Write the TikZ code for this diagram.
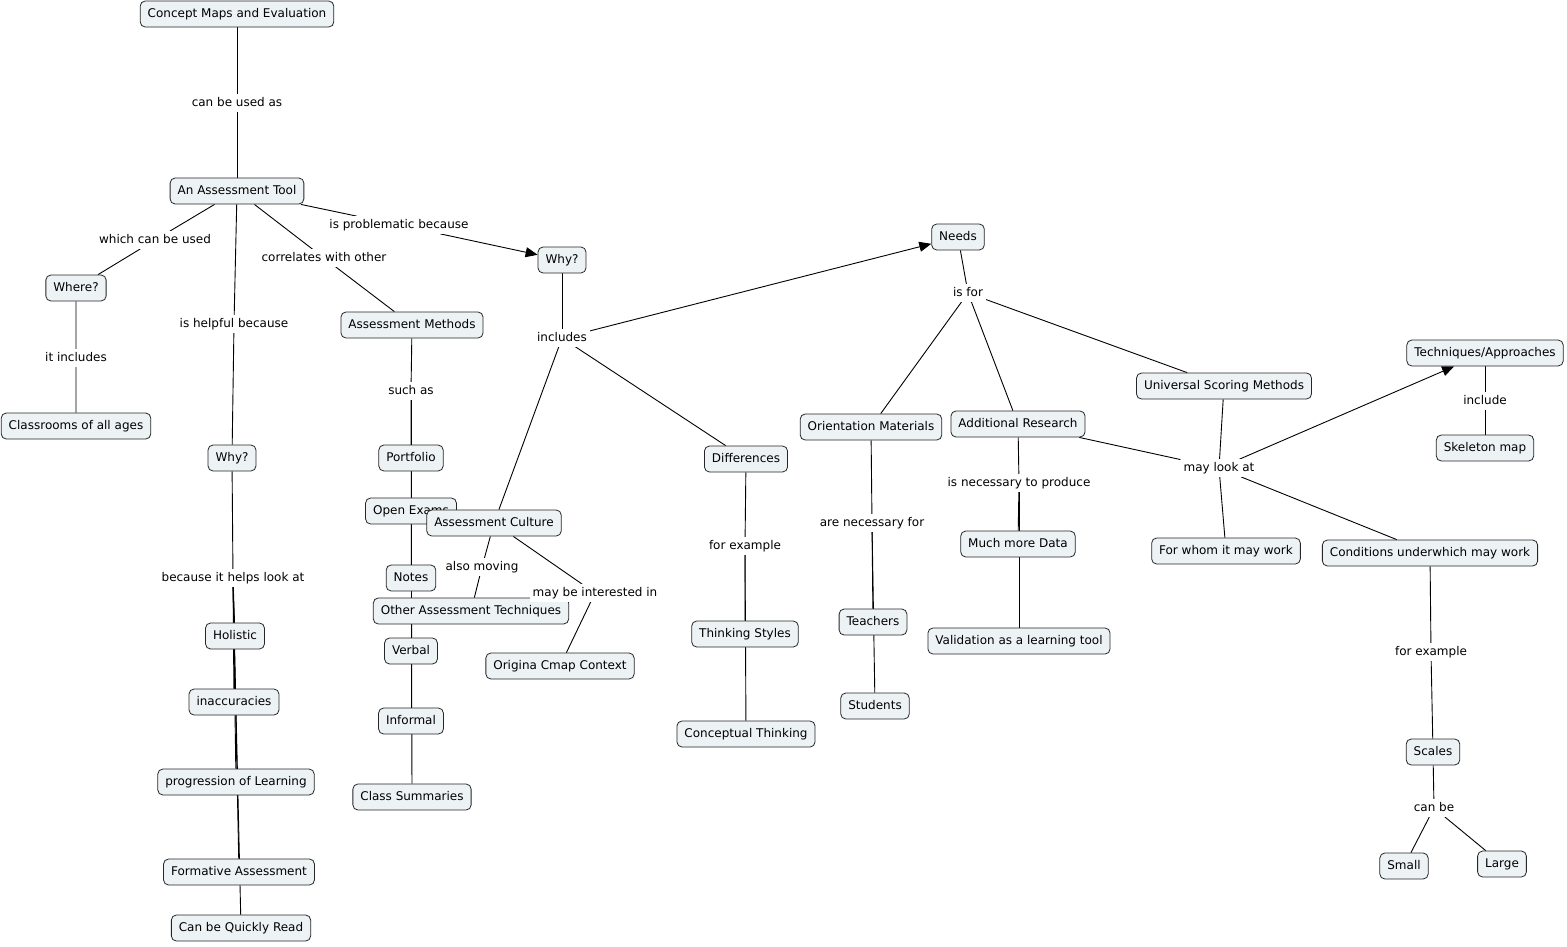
\documentclass[tikz,border=0pt]{standalone}
\usepackage{fontspec}
\setmainfont{DejaVu Sans}
\usetikzlibrary{arrows.meta,backgrounds}
\definecolor{cmapfill}{RGB}{237,243,245}

\begin{document}
\begin{tikzpicture}[
    x=1pt, y=-1pt,
    font=\fontsize{12}{14}\selectfont,
    concept/.style={
        draw=black!85,
        rounded corners=5pt,
        line width=0.8pt,
        fill=cmapfill,
        minimum height=26pt,
        inner xsep=7.5pt,
        inner ysep=0pt,
        text height=8.8pt,
        text depth=2.5pt
    },
    linkphrase/.style={
        fill=white,
        inner xsep=3pt,
        inner ysep=3pt,
        text height=8.8pt,
        text depth=2.5pt
    },
    link/.style={line width=0.9pt},
    linkarrow/.style={line width=0.9pt, -{Triangle[length=12pt,width=10pt]}}
]
\useasboundingbox (0,0) rectangle (1567,946);

% left branch
\node[concept] (cme) at (237,14) {Concept Maps and Evaluation};
\node[linkphrase] (usedas) at (237,103) {can be used as};
\node[concept] (tool) at (237,191) {An Assessment Tool};

\node[linkphrase] (canbeused) at (155,240) {which can be used};
\node[concept] (where) at (76,288) {Where?};
\node[linkphrase] (itincludes) at (76,358) {it includes};
\node[concept] (classrooms) at (76,426) {Classrooms of all ages};

\node[linkphrase] (helpful) at (234,324) {is helpful because};
\node[concept] (whyb) at (232,458) {Why?};
\node[linkphrase] (helpslook) at (233,578) {because it helps look at};
\node[concept] (holistic) at (235,636) {Holistic};
\node[concept] (inacc) at (234,702) {inaccuracies};
\node[concept] (progress) at (236,782) {progression of Learning};
\node[concept] (formative) at (239,872) {Formative Assessment};
\node[concept] (quick) at (241,928) {Can be Quickly Read};

% assessment methods
\node[linkphrase] (correlates) at (324,258) {correlates with other};
\node[concept] (methods) at (412,325) {Assessment Methods};
\node[linkphrase] (suchas) at (411,391) {such as};
\node[concept] (portfolio) at (411,458) {Portfolio};
\node[concept] (openexams) at (411,511) {Open Exams};
\node[concept] (notes) at (411,578) {Notes};
\node[concept] (othertech) at (471,611) {Other Assessment Techniques};
\node[concept] (verbal) at (411,651) {Verbal};
\node[concept] (informal) at (411,721) {Informal};
\node[concept] (summaries) at (412,797) {Class Summaries};

% middle branch
\node[linkphrase] (problematic) at (399,225) {is problematic because};
\node[concept] (whya) at (562,260) {Why?};
\node[linkphrase] (includes) at (562,338) {includes};
\node[concept] (culture) at (494,523) {Assessment Culture};
\node[linkphrase] (moving) at (482,567) {also moving};
\node[linkphrase] (interested) at (595,593) {may be interested in};
\node[concept] (origina) at (560,666) {Origina Cmap Context};
\node[concept] (differences) at (746,459) {Differences};
\node[linkphrase] (forexa) at (745,546) {for example};
\node[concept] (thinking) at (745,634) {Thinking Styles};
\node[concept] (conceptual) at (746,734) {Conceptual Thinking};

% needs
\node[concept] (needs) at (958,237) {Needs};
\node[linkphrase] (isfor) at (968,293) {is for};
\node[concept] (orient) at (871,427) {Orientation Materials};
\node[concept] (research) at (1018,424) {Additional Research};
\node[concept] (scoring) at (1224,386) {Universal Scoring Methods};
\node[linkphrase] (necfor) at (872,523) {are necessary for};
\node[concept] (teachers) at (873,622) {Teachers};
\node[concept] (students) at (875,706) {Students};
\node[linkphrase] (produce) at (1019,483) {is necessary to produce};
\node[concept] (data) at (1018,544) {Much more Data};
\node[concept] (validation) at (1019,641) {Validation as a learning tool};

% right branch
\node[linkphrase] (lookat) at (1219,468) {may look at};
\node[concept] (techniques) at (1485,353) {Techniques/Approaches};
\node[linkphrase] (include) at (1485,401) {include};
\node[concept] (skeleton) at (1485,448) {Skeleton map};
\node[concept] (forwhom) at (1226,551) {For whom it may work};
\node[concept] (conditions) at (1430,553) {Conditions underwhich may work};
\node[linkphrase] (forexb) at (1431,652) {for example};
\node[concept] (scales) at (1433,752) {Scales};
\node[linkphrase] (canbe) at (1434,808) {can be};
\node[concept] (small) at (1404,866) {Small};
\node[concept] (large) at (1502,864) {Large};

% connectors
\begin{pgfonlayer}{background}
\draw[link] (cme) -- (usedas) -- (tool);
\draw[link] (tool) -- (canbeused) -- (where) -- (itincludes) -- (classrooms);
\draw[link] (tool) -- (helpful) -- (whyb) -- (helpslook);
\foreach \n in {holistic,inacc,progress,formative,quick}
    \draw[link] (helpslook) -- (\n);
\draw[link] (tool) -- (correlates) -- (methods) -- (suchas);
\foreach \n in {portfolio,openexams,notes,verbal,informal,summaries}
    \draw[link] (suchas) -- (\n);
\draw[link] (suchas) -- (othertech.center -| suchas);
\draw[link] (tool) -- (problematic);
\draw[linkarrow] (problematic) -- (whya);
\draw[link] (whya) -- (includes);
\draw[linkarrow] (includes) -- (needs);
\draw[link] (includes) -- (culture);
\draw[link] (includes) -- (differences);
\draw[link] (culture) -- (moving) -- (othertech);
\draw[link] (culture) -- (interested) -- (origina);
\draw[link] (differences) -- (forexa) -- (thinking);
\draw[link] (forexa) -- (conceptual);
\draw[link] (needs) -- (isfor);
\foreach \n in {orient,research,scoring}
    \draw[link] (isfor) -- (\n);
\draw[link] (orient) -- (necfor) -- (teachers);
\draw[link] (necfor) -- (students);
\draw[link] (research) -- (produce) -- (data);
\draw[link] (produce) -- (validation);
\draw[link] (research) -- (lookat);
\draw[link] (scoring) -- (lookat);
\draw[linkarrow] (lookat) -- (techniques);
\draw[link] (lookat) -- (forwhom);
\draw[link] (lookat) -- (conditions);
\draw[link] (techniques) -- (include) -- (skeleton);
\draw[link] (conditions) -- (forexb) -- (scales) -- (canbe);
\draw[link] (canbe) -- (small);
\draw[link] (canbe) -- (large);
\end{pgfonlayer}

\end{tikzpicture}
\end{document}
